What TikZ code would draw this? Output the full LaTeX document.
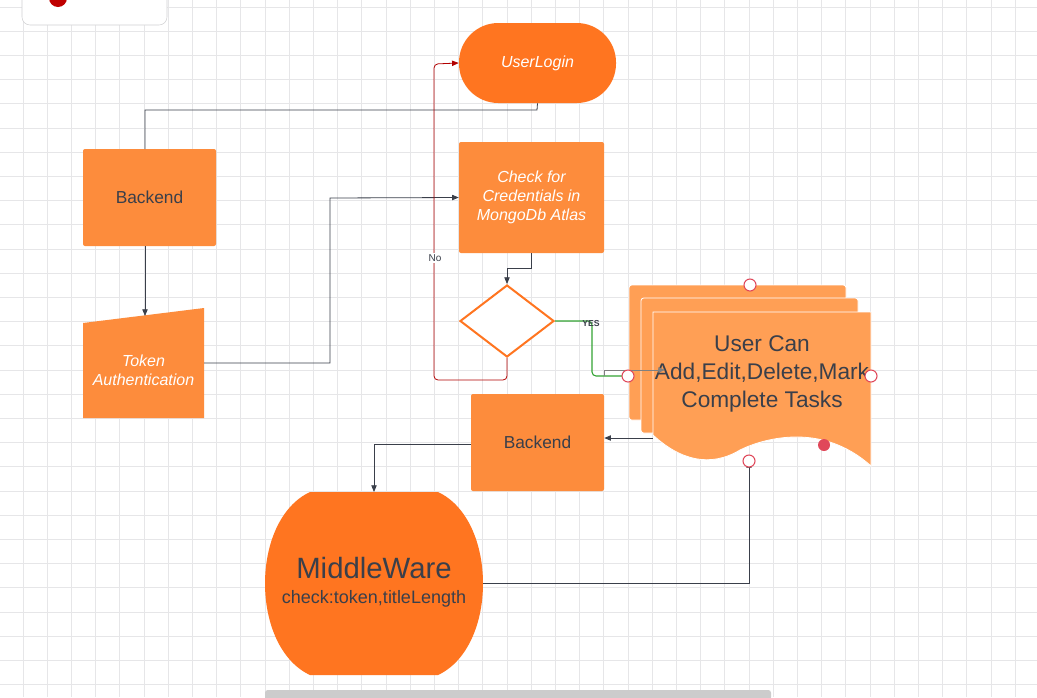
\documentclass[tikz,border=0pt]{standalone}
\usepackage{fontspec}
\setmainfont{Liberation Sans}
\usetikzlibrary{arrows.meta,shapes.geometric}
\definecolor{or1}{HTML}{FF7520}
\definecolor{or2}{HTML}{FD8C3C}
\definecolor{or3}{HTML}{FF9F55}
\definecolor{txt}{HTML}{3A3F4A}
\definecolor{gridc}{HTML}{E6E6E8}
\definecolor{hred}{HTML}{E0485A}
\begin{document}
\begin{tikzpicture}[x=0.75pt,y=-0.75pt,
  conn/.style={draw=txt,line width=0.6pt},
  arr/.style={conn,-{Triangle[length=5pt,width=4pt]}},
  box/.style={fill=or2,draw=none,rounded corners=1.5pt},
  wt/.style={text=white,font=\fontsize{12}{14.5}\selectfont\itshape,align=center},
  dt/.style={text=txt,font=\fontsize{13}{15}\selectfont},
  handle/.style={circle,draw=hred,fill=white,line width=0.8pt,minimum size=9pt,inner sep=0pt}]
\useasboundingbox (0,0) rectangle (1037,697);
\fill[white] (0,0) rectangle (1037,697);
\foreach \i in {0,...,42} \draw[gridc,line width=0.5pt] (23+24.2*\i,0) -- (23+24.2*\i,697);
\foreach \i in {0,...,29} \draw[gridc,line width=0.5pt] (0,7+24.2*\i) -- (1037,7+24.2*\i);
% top-left card
\draw[fill=white,draw=gridc!80!gray,rounded corners=6pt] (22,-12) rectangle (167,25);
\fill[red!75!black] (58,-2) circle (9);
% scrollbar
\fill[gray!40,rounded corners=2pt] (265,690) rectangle (771,700);
% nodes
\node[fill=or1,rounded corners=29.5pt,minimum width=157*0.75pt,minimum height=80*0.75pt,inner sep=0pt,wt] (login) at (537.5,63) {UserLogin};
\node[box,minimum width=133*0.75pt,minimum height=97*0.75pt,dt] (be1) at (149.5,197.5) {Backend};
\path[fill=or2] (83,323) -- (204,308) -- (204,418) -- (83,418) -- cycle;
\node[wt] (tok) at (143.5,370) {Token\\Authentication};
\coordinate (tokT) at (145,316);
\coordinate (be1T) at (145,149);
\coordinate (be1B) at (145,246);
\coordinate (tokR) at (204,363);
\node[box,minimum width=145*0.75pt,minimum height=111*0.75pt,wt] (chk) at (531.5,197.5) {Check for\\Credentials in\\MongoDb Atlas};
\coordinate (chkB) at (531,253);
\node[diamond,draw=or1,fill=white,line width=1.5pt,minimum width=94*0.75pt,minimum height=72*0.75pt,inner sep=0pt] (dia) at (507,321) {};
% document stack
\foreach \dx/\dy in {0/0,12/13} {
  \path[fill=or3,draw=white,line width=0.6pt,rounded corners=2pt] (629+\dx,285+\dy) -- (846+\dx,285+\dy) -- (846+\dx,420+\dy) -- (629+\dx,420+\dy) -- cycle;
}
\path[fill=or3,draw=white,line width=0.6pt] (653,312) -- (871,312) -- (871,466) .. controls (820,420) and (760,440) .. (740,450) .. controls (710,468) and (680,460) .. (653,435) -- cycle;
\node[text=txt,font=\fontsize{17}{21}\selectfont,align=center] (doc) at (762,374) {User Can\\Add,Edit,Delete,Mark\\Complete Tasks};
\coordinate (docL) at (653,438);
\coordinate (docB) at (749,461);
\node[box,minimum width=133*0.75pt,minimum height=97*0.75pt,dt] (be2) at (537.5,442.5) {Backend};
\coordinate (be2L) at (471,444);
\path[fill=or1] (310,492) -- (438,492) .. controls (498,520) and (498,647) .. (438,675) -- (310,675) .. controls (250,647) and (250,520) .. (310,492) -- cycle;
\node[text=txt,font=\fontsize{22}{26}\selectfont] (mw) at (374,568) {MiddleWare};
\node[text=txt,font=\fontsize{13.5}{16}\selectfont] (mw2) at (374,599) {check:token,titleLength};
\coordinate (mwR) at (483,583);
\coordinate (mwT) at (374,492);
% connectors
\draw[conn] (login.south) -- (537,110) -- (145,110) -- (be1T);
\draw[arr] (be1B) -- (tokT);
\draw[arr] (tokR) -- (330,363) -- (330,198) -- (chk.west);
\draw[arr] (chkB) -- (531,268) -- (507,268) -- (dia.north);
\draw[red!70!black,line width=0.6pt,rounded corners=3pt,-{Triangle[length=5pt,width=4pt]}] (dia.south) -- (507,380) -- (434,380) -- (434,64) -- (login.west);
\node[font=\fontsize{7.5}{9}\selectfont,text=txt,fill=white,inner sep=1pt] at (435,258) {No};
\draw[green!55!black!80,line width=0.8pt,rounded corners=3pt,-{Triangle[length=5pt,width=4pt]}] (dia.east) -- (592,321) -- (592,376) -- (629,376);
\node[font=\bfseries\fontsize{6.5}{8}\selectfont,text=txt] at (591,324) {YES};
\draw[gray,line width=0.6pt,-{Triangle[length=5pt,width=4pt]}] (604,376) -- (604,370) -- (665,370);
\draw[arr] (docL) -- (be2.east |- docL);
\draw[arr] (be2L) -- (374,444) -- (mwT);
\draw[arr] (mwR) -- (749,583) -- (docB);
% handles
\node[handle] at (750,285) {};
\node[handle] at (628,376) {};
\node[handle] at (871,376) {};
\node[handle] at (749,461) {};
\fill[hred] (824,445) circle (6);
\end{tikzpicture}
\end{document}
